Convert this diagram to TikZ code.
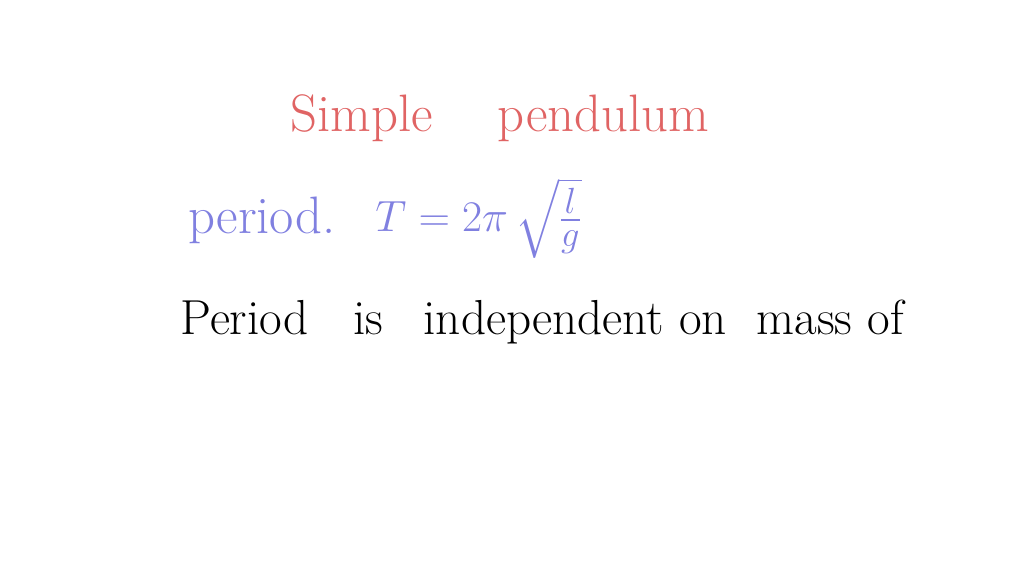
\documentclass[tikz,border=0pt]{standalone}
\usepackage{amsmath}
\usepackage{tikz}
\definecolor{penred}{HTML}{E06464}
\definecolor{penblue}{HTML}{8080E0}
\begin{document}
\begin{tikzpicture}[x=0.02cm,y=-0.02cm,
  hand/.style={inner sep=0pt,font=\fontsize{30}{36}\selectfont}]
\useasboundingbox (0,0) rectangle (1024,576);

\node[hand,text=penred] (title) at (500,118) {Simple\hspace{1.3cm}pendulum};
\node[hand,text=penblue,anchor=west] (per) at (188,220) {period.};
\node[hand,text=penblue,anchor=west] (eq) at (375,218) {$T = 2\pi\,\sqrt{\tfrac{l}{g}}$};
\node[hand,anchor=west,font=\fontsize{28}{34}\selectfont] (line) at (180,322) {Period\hspace{0.9cm}is\hspace{0.8cm}independent\hspace{0.3cm}on\hspace{0.6cm}mass of};
\end{tikzpicture}
\end{document}
